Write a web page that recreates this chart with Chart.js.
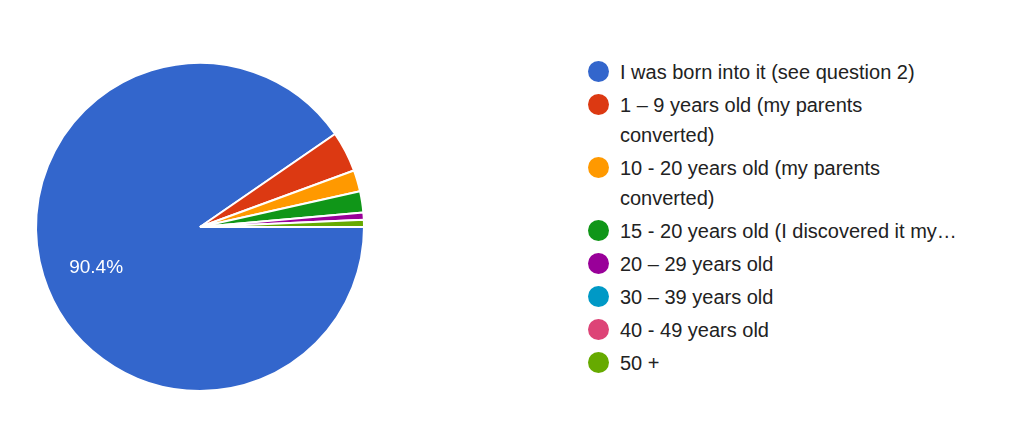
<!DOCTYPE html>
<html><head><meta charset="utf-8">
<script src="https://cdn.jsdelivr.net/npm/chart.js@4"></script>
<style>
body{margin:0;background:#fff;font-family:Arial,"Liberation Sans",sans-serif;}
#wrap{position:absolute;left:25px;top:52px;width:350px;height:350px;}
#legend{position:absolute;left:588px;top:57px;width:436px;margin:0;padding:0;list-style:none;}
#legend li{position:relative;padding-left:32px;font-size:20px;line-height:30px;color:#222;margin-bottom:3px;white-space:pre-line;}
#legend li span{position:absolute;left:0;top:4px;width:21px;height:21px;border-radius:50%;}
</style></head><body>
<div id="wrap"><canvas id="c"></canvas></div>
<ul id="legend"></ul>
<script>
const labels = ['I was born into it (see question 2)', '1 – 9 years old (my parents converted)', '10 - 20 years old (my parents converted)', '15 - 20 years old (I discovered it my…', '20 – 29 years old', '30 – 39 years old', '40 - 49 years old', '50 +'];
const legendLines = [['I was born into it (see question 2)'], ['1 – 9 years old (my parents', 'converted)'], ['10 - 20 years old (my parents', 'converted)'], ['15 - 20 years old (I discovered it my…'], ['20 – 29 years old'], ['30 – 39 years old'], ['40 - 49 years old'], ['50 +']];
const values = [90.4, 4.0, 2.1, 2.1, 0.7, 0, 0, 0.7];
const colors = ['#3366cc', '#dc3912', '#ff9900', '#109618', '#990099', '#0099c6', '#dd4477', '#66aa00'];

const legend = document.getElementById('legend');
legendLines.forEach((lines, i) => {
    const li = document.createElement('li');
    const dot = document.createElement('span');
    dot.style.background = colors[i];
    li.appendChild(dot);
    li.appendChild(document.createTextNode(lines.join('\n')));
    legend.appendChild(li);
});

const pctLabel = {
    id: 'pctLabel',
    afterDatasetsDraw(chart) {
        const arc = chart.getDatasetMeta(0).data[0];
        const total = values.reduce((a, b) => a + b, 0);
        const mid = (arc.startAngle + arc.endAngle) / 2 - 0.07;
        const r = arc.outerRadius * 0.68;
        const ctx = chart.ctx;
        ctx.save();
        ctx.fillStyle = '#fff';
        ctx.font = '19px Arial, "Liberation Sans", sans-serif';
        ctx.textAlign = 'center';
        ctx.textBaseline = 'middle';
        ctx.fillText((values[0] / total * 100).toFixed(1) + '%', arc.x + Math.cos(mid) * r, arc.y + Math.sin(mid) * r);
        ctx.restore();
    }
};

new Chart(document.getElementById('c'), {
    type: 'pie',
    data: { labels: labels, datasets: [{ data: values, backgroundColor: colors, borderColor: '#fff', borderWidth: 2 }] },
    options: {
        responsive: true, maintainAspectRatio: false, animation: false,
        rotation: 90,
        plugins: { legend: { display: false }, tooltip: { enabled: false } },
        layout: { padding: 10 }
    },
    plugins: [pctLabel]
});
</script>
</body></html>
